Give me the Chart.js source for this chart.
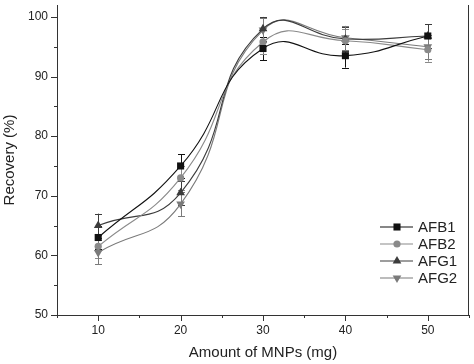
<!DOCTYPE html>
<html>
<head>
<meta charset="utf-8">
<script src="https://cdn.jsdelivr.net/npm/chart.js@4/dist/chart.umd.min.js"></script>
<style>
  html, body { margin: 0; padding: 0; background: #fff; }
  canvas { display: block; }
</style>
</head>
<body>
<canvas id="c" width="474" height="364"></canvas>
<script>
// ---- data ----
const amounts = [10, 20, 30, 40, 50];
const afb1 = [63.0, 75.0, 94.7, 93.5, 96.8];
const afb2 = [61.5, 73.0, 95.8, 96.0, 94.5];
const afg1 = [65.0, 70.5, 98.0, 96.3, 96.8];
const afg2 = [60.5, 68.6, 97.8, 96.5, 95.0];
const afb1Err = [2, 2, 2, 2, 2];
const afb2Err = [2, 2, 2, 2, 2];
const afg1Err = [2, 2, 2, 2, 2];
const afg2Err = [2, 2, 2, 2, 2];
const seriesNames = ['AFB1', 'AFB2', 'AFG1', 'AFG2'];
const xTickLabels = [10, 20, 30, 40, 50];
const yTickLabels = [50, 60, 70, 80, 90, 100];

const FONT = '"Liberation Sans", Arial, Helvetica, sans-serif';
const TEXT = '#222';

function pts(xs, ys) { return xs.map((x, i) => ({ x: x, y: ys[i] })); }

const styles = [
  { color: '#111111', pointStyle: 'rect', radius: 5, rotation: 0 },
  { color: '#8a8a8a', pointStyle: 'circle', radius: 3.6, rotation: 0 },
  { color: '#3c3c3c', pointStyle: 'triangle', radius: 5, rotation: 0 },
  { color: '#7a7a7a', pointStyle: 'triangle', radius: 5, rotation: 180 }
];
const values = [afb1, afb2, afg1, afg2];
const errors = [afb1Err, afb2Err, afg1Err, afg2Err];

const datasets = values.map((v, i) => ({
  label: seriesNames[i],
  data: pts(amounts, v),
  errors: errors[i],
  borderColor: styles[i].color,
  backgroundColor: styles[i].color,
  borderWidth: 1.1,
  pointStyle: styles[i].pointStyle,
  pointRadius: styles[i].radius,
  pointRotation: styles[i].rotation,
  pointBorderWidth: 0,
  tension: 0.5,
  fill: false
}));

const errorBars = {
  id: 'errorBars',
  beforeDatasetsDraw(chart) {
    const ctx = chart.ctx, x = chart.scales.x, y = chart.scales.y;
    ctx.save();
    chart.data.datasets.forEach((ds) => {
      ctx.strokeStyle = ds.borderColor;
      ctx.lineWidth = 1;
      ds.data.forEach((p, j) => {
        const e = ds.errors[j];
        const px = Math.round(x.getPixelForValue(p.x)) + 0.5;
        const top = y.getPixelForValue(p.y + e);
        const bot = y.getPixelForValue(p.y - e);
        ctx.beginPath();
        ctx.moveTo(px, top); ctx.lineTo(px, bot);
        ctx.moveTo(px - 3.5, Math.round(top) + 0.5); ctx.lineTo(px + 3.5, Math.round(top) + 0.5);
        ctx.moveTo(px - 3.5, Math.round(bot) + 0.5); ctx.lineTo(px + 3.5, Math.round(bot) + 0.5);
        ctx.stroke();
      });
    });
    ctx.restore();
  }
};

const frameAndTicks = {
  id: 'frameAndTicks',
  afterDraw(chart) {
    const ctx = chart.ctx, a = chart.chartArea, x = chart.scales.x, y = chart.scales.y;
    ctx.save();
    ctx.strokeStyle = '#333';
    ctx.lineWidth = 1;
    ctx.beginPath();
    const rx = Math.round(a.right) - 0.5;
    ctx.moveTo(rx, a.top); ctx.lineTo(rx, a.bottom);
    for (let v = x.min; v <= x.max + 1e-9; v += 5) {
      const px = Math.round(x.getPixelForValue(v)) + 0.5;
      const len = (v % 10 === 0) ? 6 : 3;
      ctx.moveTo(px, a.bottom); ctx.lineTo(px, a.bottom + len);
    }
    for (let v = 50; v <= y.max + 1e-9; v += 5) {
      const py = Math.round(y.getPixelForValue(v)) + 0.5;
      const len = (v % 10 === 0) ? 6 : 3;
      ctx.moveTo(a.left, py); ctx.lineTo(a.left - len, py);
    }
    ctx.stroke();
    ctx.restore();
  }
};

const insideLegend = {
  id: 'insideLegend',
  afterDraw(chart) {
    const ctx = chart.ctx;
    ctx.save();
    chart.data.datasets.forEach((ds, i) => {
      const yy = 227 + i * 17;
      ctx.strokeStyle = ds.borderColor;
      ctx.lineWidth = 1.1;
      ctx.beginPath();
      ctx.moveTo(380, yy); ctx.lineTo(413, yy);
      ctx.stroke();
      ctx.fillStyle = ds.backgroundColor;
      Chart.helpers.drawPoint(ctx, {
        pointStyle: ds.pointStyle, radius: ds.pointRadius, rotation: ds.pointRotation, borderWidth: 0
      }, 397, yy);
      ctx.fillStyle = TEXT;
      ctx.font = '15px ' + FONT;
      ctx.textBaseline = 'middle';
      ctx.textAlign = 'left';
      ctx.fillText(ds.label, 418, yy + 1);
    });
    ctx.restore();
  }
};

new Chart(document.getElementById('c'), {
  type: 'line',
  data: { datasets: datasets },
  plugins: [errorBars, frameAndTicks, insideLegend],
  options: {
    responsive: false,
    animation: false,
    layout: { padding: { top: 4, right: 5, left: 0, bottom: 0 } },
    plugins: { legend: { display: false }, tooltip: { enabled: false } },
    scales: {
      x: {
        type: 'linear', min: 5, max: 55,
        afterFit(s) { s.height = 49; s.paddingLeft = 0; s.paddingRight = 0; },
        grid: { display: true, drawOnChartArea: false, drawTicks: true, tickLength: 6, color: 'rgba(0,0,0,0)' },
        border: { display: true, color: '#333', width: 1 },
        ticks: {
          stepSize: 5, padding: 2, color: TEXT, maxRotation: 0,
          font: { family: FONT, size: 12 },
          callback: (v) => xTickLabels.includes(v) ? String(v) : ''
        },
        title: { display: true, text: 'Amount of MNPs (mg)', color: TEXT, font: { family: FONT, size: 15 }, padding: { top: 0, bottom: 2 } }
      },
      y: {
        type: 'linear', min: 50, max: 102,
        afterFit(s) { s.width = 57; s.paddingTop = 0; s.paddingBottom = 0; },
        grid: { display: true, drawOnChartArea: false, drawTicks: true, tickLength: 6, color: 'rgba(0,0,0,0)' },
        border: { display: true, color: '#333', width: 1 },
        ticks: {
          stepSize: 5, includeBounds: false, padding: 3, color: TEXT,
          font: { family: FONT, size: 12 },
          callback: (v) => yTickLabels.includes(v) ? String(v) : ''
        },
        title: { display: true, text: 'Recovery (%)', color: TEXT, font: { family: FONT, size: 15 }, padding: { top: 1, bottom: 0 } }
      }
    }
  }
});
</script>
</body>
</html>
